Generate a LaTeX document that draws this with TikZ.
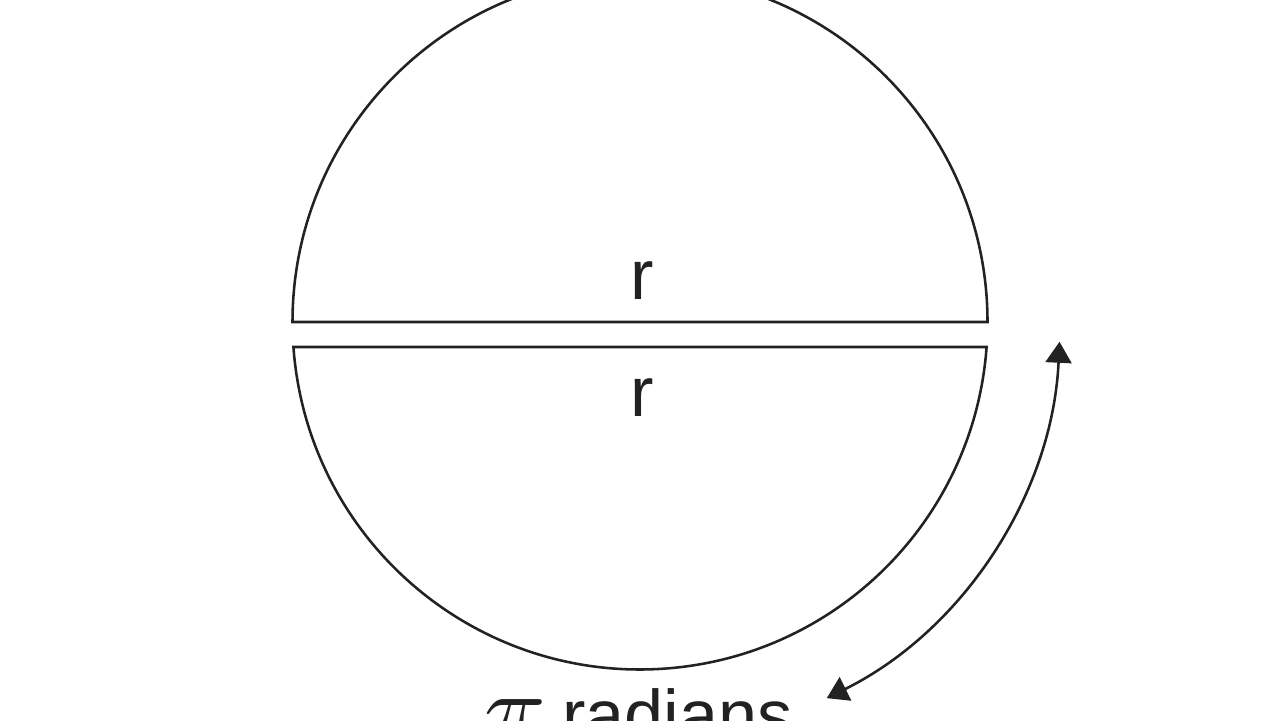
\documentclass[tikz,border=0pt]{standalone}
\usepackage{fontspec}
\setmainfont{Liberation Sans}
\usetikzlibrary{arrows.meta,calc}
\definecolor{ink}{HTML}{222222}
\tikzset{
  seg/.style={draw=ink, line width=1.45pt},
  arc arrow/.style={draw=ink, line width=1.45pt,
    {Triangle[length=0.42cm,width=0.52cm]}-{Triangle[length=0.42cm,width=0.52cm]}},
  rlabel/.style={text=ink, inner sep=0pt, anchor=base, font=\fontsize{40}{44}\selectfont},
  pilabel/.style={text=ink, inner sep=0pt, anchor=base west, font=\fontsize{40}{44}\selectfont},
  pisym/.style={text=ink, inner sep=0pt, anchor=base west, font=\fontsize{10}{12}\selectfont}
}
\begin{document}
\begin{tikzpicture}[x=0.02cm,y=0.02cm]
\useasboundingbox (0,0) rectangle (1280,720);
\fill[white] (0,0) rectangle (1280,720);
\clip (0,0) rectangle (1280,720);
\coordinate (C) at (640,398);
% upper half
\draw[seg] (C) ++(180:347.5) arc[start angle=180,end angle=0,radius=347.5] -- cycle;
% lower segment
\draw[seg] (C) ++(184.13:347.5) arc[start angle=184.13,end angle=355.87,radius=347.5] -- cycle;
\node[rlabel] (rtop) at (642,420) {r};
\node[rlabel] (rbot) at (642,303) {r};
% arc arrow
\coordinate (A0) at ($(C)+(-63.6:420)$);
\draw[arc arrow] (A0) arc[start angle=-63.6,end angle=-2.7,radius=420];
\node[pisym] (pi) at (484,-23) {\scalebox{5.8}{$\pi$}};
\node[pilabel] (rad) at (562,-19) {radians};
\end{tikzpicture}
\end{document}
